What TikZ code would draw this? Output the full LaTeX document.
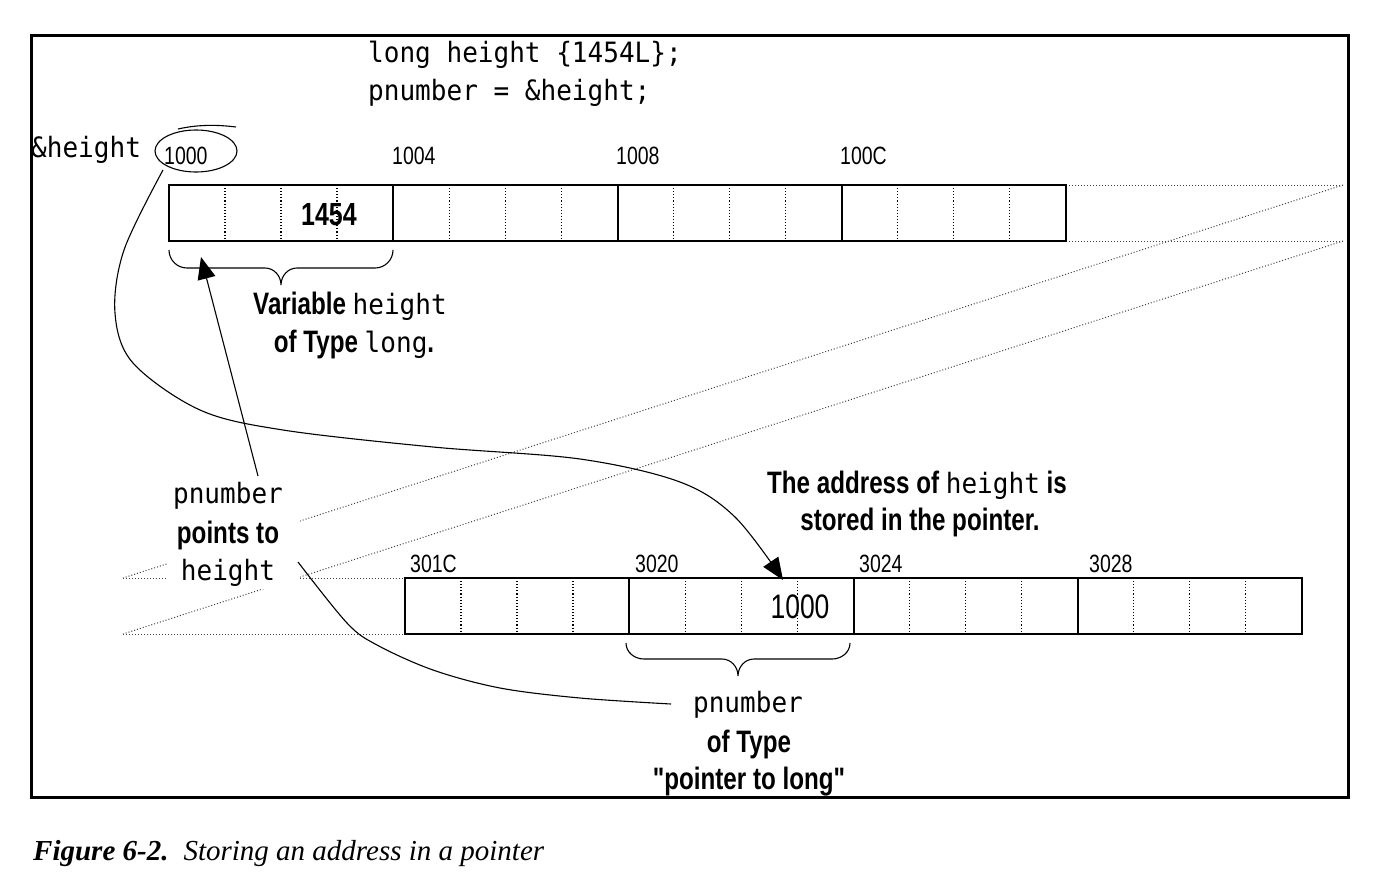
\documentclass[tikz,border=0pt]{standalone}
\usepackage{fontspec}
\setmainfont{Liberation Serif}
\newfontfamily\monof[FakeStretch=0.93]{DejaVu Sans Mono}
\newfontfamily\condf[FakeStretch=0.78]{Liberation Sans}
\usetikzlibrary{arrows.meta}
\newcommand\mymono{\monof\mdseries\fontsize{28}{30}\selectfont}
\newcommand\addrfont{\condf\fontsize{25}{27}\selectfont}
\newcommand\labfont{\condf\bfseries\fontsize{31}{36}\selectfont}
\begin{document}
\begin{tikzpicture}[x=1pt,y=-1pt,
  cell/.style={draw, line width=2pt},
  sub/.style={dotted, line width=1.1pt},
  guide/.style={dotted, line width=1pt, black!75},
  conn/.style={line width=1.1pt},
  bigtip/.style={-{Triangle[length=22pt,width=18pt]}},
  txt/.style={anchor=base, inner sep=0pt},
  txtw/.style={anchor=base west, inner sep=0pt},
  brace/.style={line width=1.1pt}]
\useasboundingbox (0,0) rectangle (1394,892);
\fill[white] (0,0) rectangle (1394,892);

% guide lines (zoom lines)
\coordinate (gtr) at (1343,185);
\coordinate (gbr) at (1343,241);
\coordinate (gtl) at (123,578);
\coordinate (gbl) at (123,634);
\draw[guide] (1066,185) -- (gtr);
\draw[guide] (1066,241) -- (gbr);
\draw[guide] (gtr) -- (gtl);
\draw[guide] (gbr) -- (gbl);
\draw[guide] (gtl) -- (405,578);
\draw[guide] (gbl) -- (405,634);

% top memory row
\foreach \i in {0,1,2,3} {
  \pgfmathsetmacro\xa{169+224.25*\i}
  \draw[cell] (\xa,185) rectangle ++(224.25,56);
  \foreach \j in {1,2,3} {
    \draw[sub] (\xa+56*\j,188) -- (\xa+56*\j,238);
  }
}
% bottom memory row
\foreach \i in {0,1,2,3} {
  \pgfmathsetmacro\xb{405+224.25*\i}
  \draw[cell] (\xb,578) rectangle ++(224.25,55.5);
  \foreach \j in {1,2,3} {
    \draw[sub] (\xb+56*\j,581) -- (\xb+56*\j,631);
  }
}

% white area behind left label
\fill[white] (168,476) rectangle (300,589);

% frame
\draw[line width=3pt] (31,35) rectangle (1348,797);

% code
\node[txtw] (code1) at (368,62) {\mymono long height \{1454L\};};
\node[txtw] (code2) at (368,100) {\mymono pnumber = \&height;};
\node[txtw] (amp) at (31,157) {\mymono \&height};

% address labels
\node[txtw] (a1000) at (164,164) {\addrfont 1000};
\node[txtw] (a1004) at (392,164) {\addrfont 1004};
\node[txtw] (a1008) at (616,164) {\addrfont 1008};
\node[txtw] (a100C) at (840,164) {\addrfont 100C};
\node[txtw] (a301C) at (410,572) {\addrfont 301C};
\node[txtw] (a3020) at (635,572) {\addrfont 3020};
\node[txtw] (a3024) at (859,572) {\addrfont 3024};
\node[txtw] (a3028) at (1089,572) {\addrfont 3028};

% values
\node[txt] (v1454) at (329,225) {\condf\bfseries\fontsize{32}{34}\selectfont 1454};
\node[txt] (v1000) at (800,618) {\condf\fontsize{34}{36}\selectfont 1000};

% circle around 1000
\draw[conn] (196,151) ellipse [x radius=41, y radius=21];
\draw[conn] (178,129) .. controls (200,124) and (220,125) .. (236,127);

% braces
\draw[brace] (169,250) to[out=-90,in=180] (187,268) -- (265,268) to[out=0,in=90] (281,285)
  to[out=90,in=180] (297,268) -- (375,268) to[out=0,in=-90] (393,250);
\draw[brace] (626,643) to[out=-90,in=180] (644,659) -- (722,659) to[out=0,in=90] (738,676)
  to[out=90,in=180] (754,659) -- (832,659) to[out=0,in=-90] (850,643);

% labels
\node[txt] (var1) at (350,314) {\labfont Variable {\mymono height}};
\node[txt] (var2) at (354,352) {\labfont of Type {\mymono long}.};
\node[txt] (pn1) at (228,503) {\mymono pnumber};
\node[txt] (pn2) at (228,543) {\labfont points to};
\node[txt] (pn3) at (228,580) {\mymono height};
\node[txt] (ad1) at (917,493) {\labfont The address of {\mymono height} is};
\node[txt] (ad2) at (920,530) {\labfont stored in the pointer.};
\node[txt] (pt1) at (748,712) {\mymono pnumber};
\node[txt] (pt2) at (749,752) {\labfont of Type};
\node[txt] (pt3) at (749,789) {\labfont "pointer to long"};

% connectors
\coordinate (s1) at (258,476);
\coordinate (e1) at (201,257);
\draw[conn,bigtip] (s1) -- (e1);

\coordinate (s2) at (163,170);
\coordinate (e2) at (783,580);
\draw[conn,bigtip] plot[smooth, tension=0.55] coordinates {(s2) (124,250) (115,313) (133,363) (200,410) (283,430) (433,447) (580,459) (680,482) (735,517) (e2)};

\coordinate (s3) at (298,562);
\coordinate (e3) at (671,704);
\draw[conn] plot[smooth, tension=0.55] coordinates {(s3) (347,623) (377,645) (433,670) (500,688) (580,698) (e3)};

% caption
\node[txtw] (cap) at (33,860) {\fontsize{29}{33}\selectfont\bfseries\itshape Figure 6-2.\hspace{15pt}\mdseries Storing an address in a pointer};
\end{tikzpicture}
\end{document}
